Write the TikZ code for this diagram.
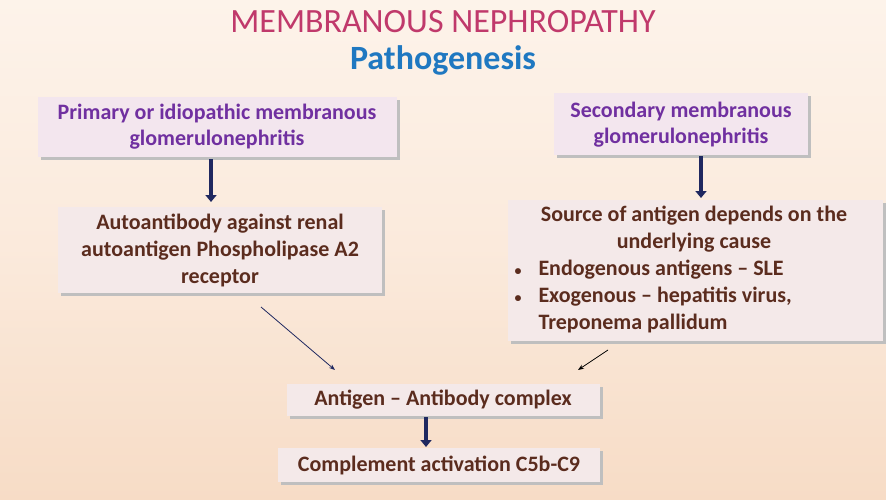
\documentclass[tikz,border=0pt]{standalone}
\usepackage{fontspec}
\setmainfont{Carlito}
\usetikzlibrary{arrows.meta}
\definecolor{bgA}{HTML}{F7DCC6}
\definecolor{bgB}{HTML}{FDF3EA}
\definecolor{ttl}{HTML}{C0396B}
\definecolor{sub}{HTML}{1F78C1}
\definecolor{purp}{HTML}{7030A0}
\definecolor{brn}{HTML}{5B2C1E}
\definecolor{navy}{HTML}{1F2860}
\definecolor{lav}{HTML}{F3E6EE}
\definecolor{pinkbox}{HTML}{F4E9E9}
\begin{document}
\begin{tikzpicture}[x=1pt,y=-1pt,
  txta/.style={font=\bfseries\fontsize{22}{26}\selectfont,text=purp,align=center},
  txtb/.style={font=\bfseries\fontsize{22}{27}\selectfont,text=brn,align=center},
  thick arrow/.style={draw=navy,line width=4pt,-{Triangle[length=7pt,width=11pt]}},
  thin arrow/.style={draw=navy,line width=0.8pt,-{Stealth[length=6pt]}}]
\shade[top color=bgB,bottom color=bgA,middle color=bgB!60!bgA] (0,0) rectangle (886,500);
\useasboundingbox (0,0) rectangle (886,500);
\node[font=\fontsize{34}{38}\selectfont,text=ttl] (t1) at (443,22) {MEMBRANOUS NEPHROPATHY};
\node[font=\bfseries\fontsize{34}{38}\selectfont,text=sub] (t2) at (443,60) {Pathogenesis};
\foreach \a/\b/\c/\d in {38/97/397/157, 554/93/808/155, 58/207/382/293, 508/200/883/341, 287/384/600/416, 278/448/600/482}
  \fill[black!25] (\a+3,\b+3) rectangle (\c+3,\d+3);
\fill[lav] (38,97) rectangle (397,157);
\node[txta] (b1) at (217,127) {Primary or idiopathic membranous\\glomerulonephritis};
\fill[lav] (554,93) rectangle (808,155);
\node[txta] (b2) at (681,125) {Secondary membranous\\glomerulonephritis};
\fill[pinkbox] (58,207) rectangle (382,293);
\node[txtb] (b3) at (220,250) {Autoantibody against renal\\autoantigen Phospholipase A2\\receptor};
\fill[pinkbox] (508,200) rectangle (883,341);
\node[txtb] (b4a) at (694,229) {Source of antigen depends on the\\underlying cause};
\node[txtb,align=left,anchor=north west] (b4b) at (511,256) {{\fontsize{14}{14}\selectfont\textbullet}\hspace{17pt}Endogenous antigens -- SLE\\{\fontsize{14}{14}\selectfont\textbullet}\hspace{17pt}Exogenous -- hepatitis virus,\\\hspace{24pt}Treponema pallidum};
\fill[pinkbox] (287,384) rectangle (600,416);
\node[txtb] (b5) at (443,400) {Antigen -- Antibody complex};
\fill[pinkbox] (278,448) rectangle (600,482);
\node[txtb] (b6) at (439,465) {Complement activation C5b-C9};
\coordinate (a1s) at (211,159); \coordinate (a1e) at (211,202);
\coordinate (a2s) at (701,156); \coordinate (a2e) at (701,198);
\coordinate (a3s) at (426,417); \coordinate (a3e) at (426,447);
\draw[thick arrow] (a1s) -- (a1e);
\draw[thick arrow] (a2s) -- (a2e);
\draw[thick arrow] (a3s) -- (a3e);
\coordinate (c1) at (261,307); \coordinate (c2) at (335,370);
\coordinate (c3) at (608,350); \coordinate (c4) at (578,370);
\draw[thin arrow] (c1) -- (c2);
\draw[thin arrow,draw=black] (c3) -- (c4);
\end{tikzpicture}
\end{document}
